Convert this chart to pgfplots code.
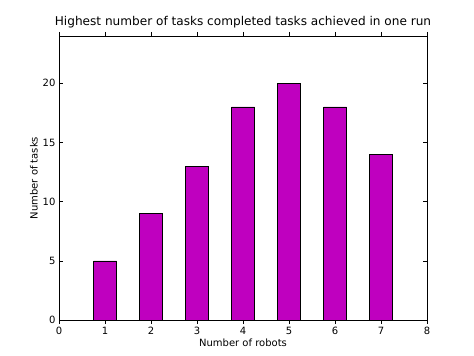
\documentclass[border=0pt]{standalone}
\usepackage{pgfplots}
\pgfplotsset{compat=1.18}
\usepackage{fontspec}
\setmainfont{DejaVu Sans}
\definecolor{mpm}{rgb}{0.75,0,0.75}
\begin{document}
\begin{tikzpicture}
\begin{axis}[
  scale only axis,
  width=368pt, height=284pt,
  xmin=0, xmax=8, ymin=0, ymax=24,
  xtick={0,1,...,8}, ytick={0,5,10,15,20},
  tick align=inside,
  major tick length=4pt,
  tick style={black, line width=0.5pt},
  axis line style={line width=0.8pt},
  /pgf/number format/assume math mode=true,
  tick label style={font=\fontsize{10}{12}\selectfont},
  label style={font=\fontsize{10}{12}\selectfont},
  title style={font=\fontsize{12.1}{14}\selectfont, yshift=-2pt},
  title={Highest number of tasks completed tasks achieved in one run},
  xlabel={Number of robots},
  ylabel={Number of tasks},
  xlabel style={yshift=3pt},
  ylabel style={yshift=-2pt},
  ybar, bar width=23pt,
]
\addplot[fill=mpm, draw=black, line width=0.6pt] coordinates {(1,5) (2,9) (3,13) (4,18) (5,20) (6,18) (7,14)};
\end{axis}
\path (current axis.south west) ++(-59pt,-35pt) coordinate (bl);
\path (current axis.north east) ++(47pt,36pt) coordinate (tr);
\useasboundingbox (bl) rectangle (tr);
\end{tikzpicture}
\end{document}
